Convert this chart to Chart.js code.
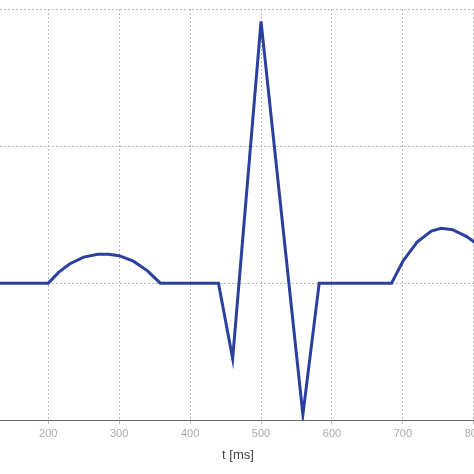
<!DOCTYPE html><html><head><script src="https://cdn.jsdelivr.net/npm/chart.js"></script>
<style>html,body{margin:0;background:#fff;overflow:hidden;width:474px;height:474px}#w{width:486px;height:474px}</style></head><body><div id="w"><canvas id="c"></canvas></div>
<script>
const tMs=[132,200,215,230,250,270,285,300,320,340,358,440,460,500,559,582,684,700,720,740,754,770,790,803];
const amp=[0,0,0.08,0.14,0.19,0.21,0.21,0.2,0.16,0.09,0,0,-0.55,1.91,-0.96,0,0,0.16,0.3,0.38,0.4,0.39,0.34,0.29];
const xTicks=[200,300,400,500,600,700,800];
new Chart(document.getElementById('c'),{type:'line',
data:{datasets:[{data:tMs.map((t,i)=>({x:t,y:amp[i]})),borderColor:'#2b3f9e',borderWidth:3,pointRadius:0,tension:0}]},
options:{responsive:true,maintainAspectRatio:false,animation:false,layout:{padding:{top:9,bottom:7}},
plugins:{legend:{display:false},tooltip:{enabled:false}},
scales:{x:{type:'linear',min:132,max:803,afterBuildTicks:a=>{a.ticks=xTicks.map(v=>({value:v}))},
ticks:{color:'#aaa',font:{size:11},maxRotation:0,autoSkip:false},
grid:{color:'#bbb',tickLength:4},border:{color:'#666',dash:[2,2]},
title:{display:true,text:'t [ms]',color:'#444',font:{size:13}}},
y:{min:-1,max:2,ticks:{display:false,stepSize:1},grid:{color:'#bbb',drawTicks:false},border:{display:false,dash:[2,2]}}}}});
</script></body></html>
